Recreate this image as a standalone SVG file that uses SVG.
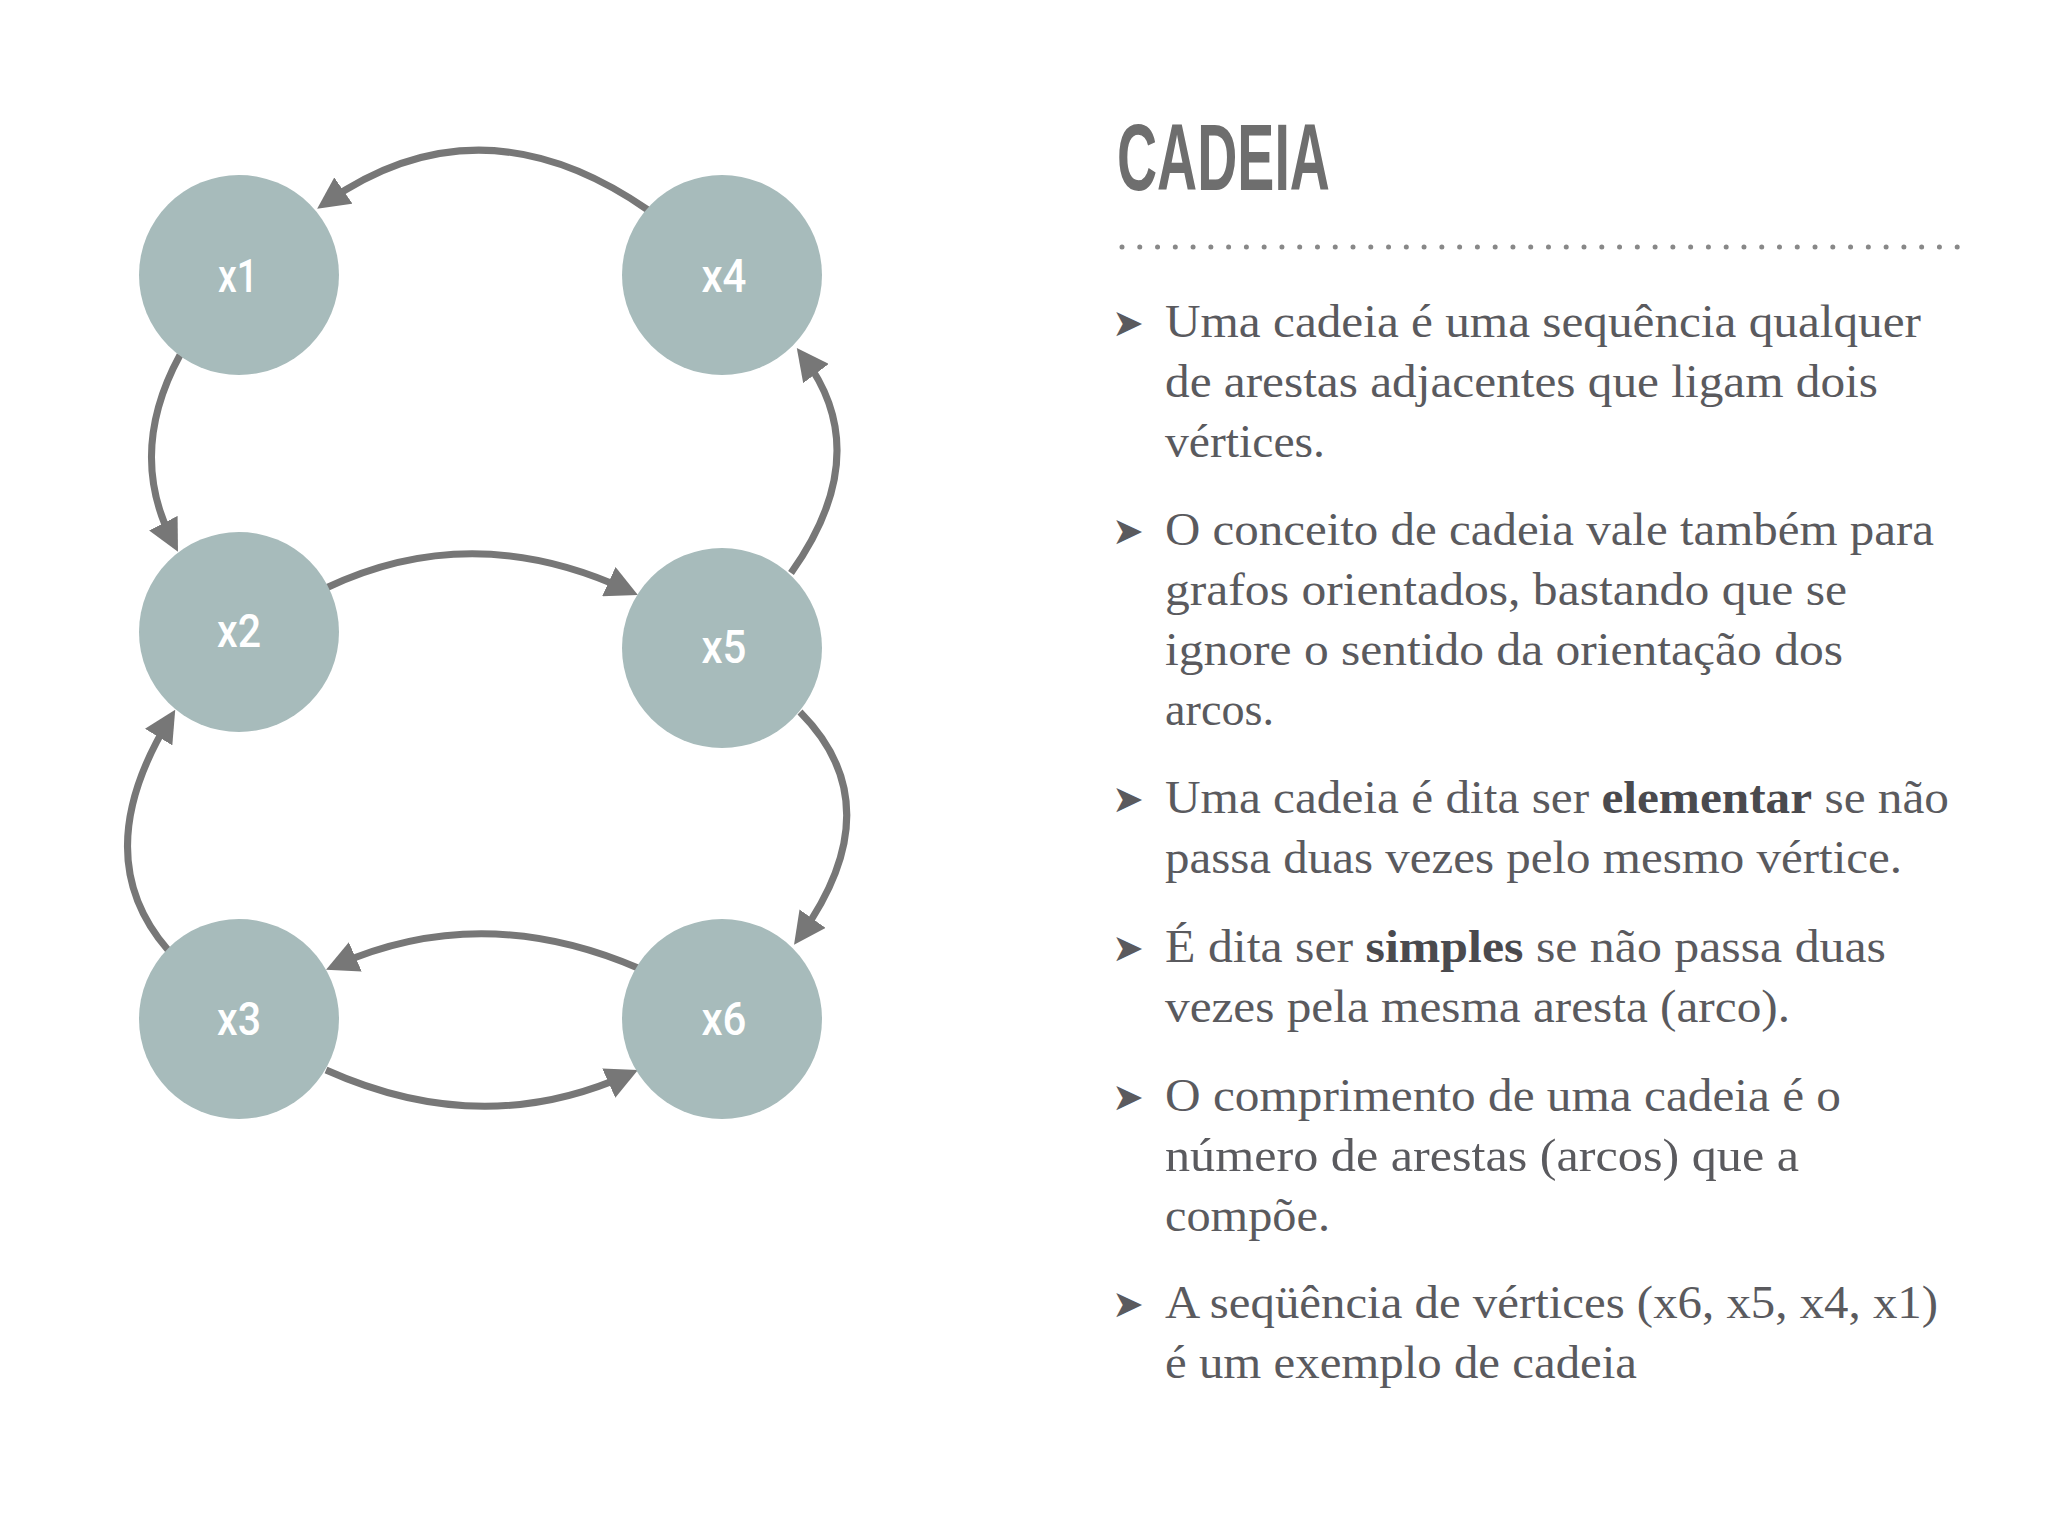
<svg xmlns="http://www.w3.org/2000/svg" width="2048" height="1536" viewBox="0 0 2048 1536">
<defs>
<style>
.node{fill:#A7BBBB}
.lbl{fill:#ffffff;font-family:Roboto,"DejaVu Sans",sans-serif;font-weight:500;font-size:47px;text-anchor:middle}
.edge{fill:none;stroke:#777777;stroke-width:7;marker-end:url(#ah)}
.body{fill:#5a5a5e;font-family:"Liberation Serif","DejaVu Serif",serif;font-size:46px}
.bul{fill:#5a5a5e;font-family:"DejaVu Sans",sans-serif;font-size:38px}
.b{font-weight:bold;fill:#4a4a4e}
</style>
<marker id="ah" markerUnits="userSpaceOnUse" viewBox="0 0 32 32" markerWidth="32" markerHeight="32" refX="20" refY="16" orient="auto">
<path d="M0,0 L32,16 L0,32 Z" fill="#777777"/>
</marker>
</defs>
<rect width="2048" height="1536" fill="#ffffff"/>
<g id="connectors">
<path class="edge" d="M648,210 Q481.5,94.5 327,202"/>
<path class="edge" d="M180,355 Q127,452.5 172.5,541"/>
<path class="edge" d="M326,588 Q472,518.5 627,590"/>
<path class="edge" d="M791,573 Q876,453.5 804,357.6"/>
<path class="edge" d="M800,712 Q893,805.5 801,935"/>
<path class="edge" d="M168,950 Q86.5,856 169,720"/>
<path class="edge" d="M638,968 Q482,901 337,965"/>
<path class="edge" d="M326,1070 Q482,1140 627,1075"/>
</g>
<g id="x1"><circle class="node" cx="239" cy="275" r="100"/><text class="lbl" x="238" y="292" textLength="40" lengthAdjust="spacingAndGlyphs">x1</text></g>
<g id="x4"><circle class="node" cx="722" cy="275" r="100"/><text class="lbl" x="724" y="292" textLength="45" lengthAdjust="spacingAndGlyphs">x4</text></g>
<g id="x2"><circle class="node" cx="239" cy="632" r="100"/><text class="lbl" x="239" y="647" textLength="44" lengthAdjust="spacingAndGlyphs">x2</text></g>
<g id="x5"><circle class="node" cx="722" cy="648" r="100"/><text class="lbl" x="724" y="663" textLength="45" lengthAdjust="spacingAndGlyphs">x5</text></g>
<g id="x3"><circle class="node" cx="239" cy="1019" r="100"/><text class="lbl" x="239" y="1035" textLength="44" lengthAdjust="spacingAndGlyphs">x3</text></g>
<g id="x6"><circle class="node" cx="722" cy="1019" r="100"/><text class="lbl" x="724" y="1035" textLength="45" lengthAdjust="spacingAndGlyphs">x6</text></g>
<g id="text">
<text x="1117" y="190" fill="#6e6e6e" font-family="'Liberation Sans',Arial,sans-serif" font-weight="bold" font-size="94" textLength="213" lengthAdjust="spacingAndGlyphs">CADEIA</text>
<line x1="1122" y1="247" x2="1959" y2="247" stroke="#888888" stroke-width="5" stroke-linecap="round" stroke-dasharray="0 17.77"/>
<text class="bul" x="1112" y="336">➤</text>
<text class="body" x="1165" y="337" textLength="756" lengthAdjust="spacingAndGlyphs">Uma cadeia é uma sequência qualquer</text>
<text class="body" x="1165" y="397" textLength="713" lengthAdjust="spacingAndGlyphs">de arestas adjacentes que ligam dois</text>
<text class="body" x="1165" y="457" textLength="160" lengthAdjust="spacingAndGlyphs">vértices.</text>
<text class="bul" x="1112" y="544">➤</text>
<text class="body" x="1165" y="545" textLength="769" lengthAdjust="spacingAndGlyphs">O conceito de cadeia vale também para</text>
<text class="body" x="1165" y="605" textLength="682" lengthAdjust="spacingAndGlyphs">grafos orientados, bastando que se</text>
<text class="body" x="1165" y="665" textLength="678" lengthAdjust="spacingAndGlyphs">ignore o sentido da orientação dos</text>
<text class="body" x="1165" y="725" textLength="109" lengthAdjust="spacingAndGlyphs">arcos.</text>
<text class="bul" x="1112" y="812">➤</text>
<text class="body" x="1165" y="813" textLength="784" lengthAdjust="spacingAndGlyphs">Uma cadeia é dita ser <tspan class="b">elementar</tspan> se não</text>
<text class="body" x="1165" y="873" textLength="737" lengthAdjust="spacingAndGlyphs">passa duas vezes pelo mesmo vértice.</text>
<text class="bul" x="1112" y="961">➤</text>
<text class="body" x="1165" y="962" textLength="721" lengthAdjust="spacingAndGlyphs">É dita ser <tspan class="b">simples</tspan> se não passa duas</text>
<text class="body" x="1165" y="1022" textLength="625" lengthAdjust="spacingAndGlyphs">vezes pela mesma aresta (arco).</text>
<text class="bul" x="1112" y="1110">➤</text>
<text class="body" x="1165" y="1111" textLength="676" lengthAdjust="spacingAndGlyphs">O comprimento de uma cadeia é o</text>
<text class="body" x="1165" y="1171" textLength="634" lengthAdjust="spacingAndGlyphs">número de arestas (arcos) que a</text>
<text class="body" x="1165" y="1231" textLength="165" lengthAdjust="spacingAndGlyphs">compõe.</text>
<text class="bul" x="1112" y="1317">➤</text>
<text class="body" x="1165" y="1318" textLength="773" lengthAdjust="spacingAndGlyphs">A seqüência de vértices (x6, x5, x4, x1)</text>
<text class="body" x="1165" y="1378" textLength="472" lengthAdjust="spacingAndGlyphs">é um exemplo de cadeia</text>
</g>
</svg>
